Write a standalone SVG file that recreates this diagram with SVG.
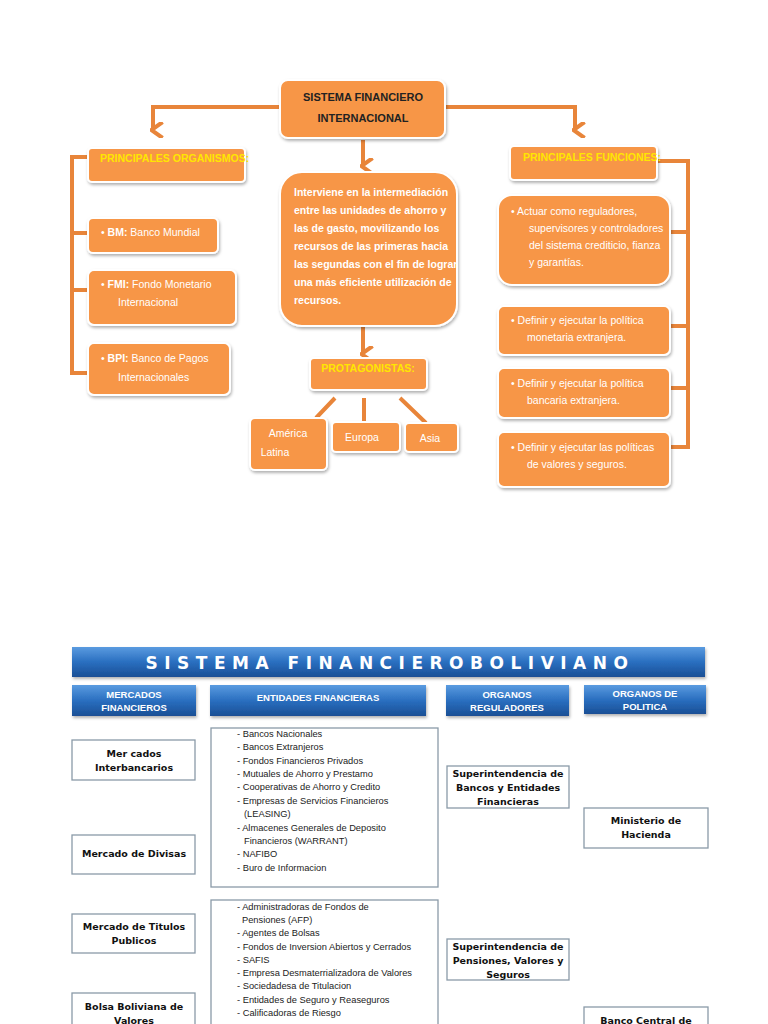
<svg xmlns="http://www.w3.org/2000/svg" width="768" height="1024" viewBox="0 0 768 1024">
<defs>
<style>
.ob{fill:#F79646;stroke:#fff;stroke-width:2;filter:url(#sh)}
.ln{stroke:#E8853A;stroke-width:4;fill:none}
.tw{font-family:"Liberation Sans",Arial,sans-serif;font-size:10.5px;fill:#fff}
.ty{font-family:"Liberation Sans",Arial,sans-serif;font-size:10.5px;fill:#FFE600;font-weight:bold}
.tb{font-family:"Liberation Sans",Arial,sans-serif;font-size:10.5px;fill:#fff;font-weight:bold}
.wb{fill:#fff;stroke:#8a9aa8;stroke-width:1.3}
.bk{font-family:"DejaVu Sans",sans-serif;font-size:9.5px;fill:#111;font-weight:bold}
.ls{font-family:"Liberation Sans",Arial,sans-serif;font-size:9.3px;fill:#222}
.hd{font-family:"Liberation Sans",Arial,sans-serif;font-size:9.5px;fill:#fff;font-weight:bold}
.bl{fill:url(#bg);filter:url(#sh)}
</style>
<filter id="sh" x="-10%" y="-10%" width="125%" height="130%"><feDropShadow dx="1" dy="2" stdDeviation="1.5" flood-color="#000" flood-opacity="0.3"/></filter>
<linearGradient id="bg" x1="0" y1="0" x2="0" y2="1"><stop offset="0" stop-color="#5A9BE0"/><stop offset="0.5" stop-color="#2A6FC0"/><stop offset="1" stop-color="#1A4F95"/></linearGradient>
<marker id="ar" viewBox="0 0 10 10" refX="5" refY="8" markerWidth="4" markerHeight="4" orient="auto-start-reverse"><path d="M0,2 L5,9 L10,2" fill="none" stroke="#E8853A" stroke-width="2.5"/></marker>
</defs>
<rect width="768" height="1024" fill="#fff"/>
<g id="connectors">
<path class="ln" d="M280,107 H153 V130" marker-end="url(#ar)"/>
<path class="ln" d="M445,107 H575 V130" marker-end="url(#ar)"/>
<path class="ln" d="M363,140 V166" marker-end="url(#ar)"/>
<path class="ln" d="M363,326 V354" marker-end="url(#ar)"/>
<path class="ln" d="M88,157 H72 V373 H88 M72,233 H88 M72,290 H88"/>
<path class="ln" d="M657,161 H688 V447 H670 M688,232 H670 M688,326 H670 M688,388 H670"/>
<path class="ln" d="M335,398 L316,418 M364,398 V422 M400,398 L426,423"/>
</g>
<g id="title"><rect class="ob" x="280" y="80" width="165" height="58" rx="8"/><text x="363" y="101" text-anchor="middle" font-family="Liberation Sans,Arial,sans-serif" font-size="11" font-weight="bold" fill="#222">SISTEMA FINANCIERO</text><text x="363" y="122" text-anchor="middle" font-family="Liberation Sans,Arial,sans-serif" font-size="11" font-weight="bold" fill="#222">INTERNACIONAL</text></g>
<g id="organismos"><rect class="ob" x="88" y="148" width="157" height="34" rx="4"/><text class="ty" x="100" y="162">PRINCIPALES ORGANISMOS:</text></g>
<g id="bm"><rect class="ob" x="88" y="218" width="130" height="35" rx="5"/><text class="tw" x="101" y="236">•   <tspan font-weight="bold">BM:</tspan> Banco Mundial</text></g>
<g id="fmi"><rect class="ob" x="88" y="270" width="148" height="55" rx="6"/><text class="tw" x="101" y="288">•   <tspan font-weight="bold">FMI:</tspan> Fondo Monetario</text><text class="tw" x="118" y="306">Internacional</text></g>
<g id="bpi"><rect class="ob" x="88" y="343" width="142" height="52" rx="6"/><text class="tw" x="101" y="362">•   <tspan font-weight="bold">BPI:</tspan> Banco de Pagos</text><text class="tw" x="118" y="381">Internacionales</text></g>
<g id="centro"><rect class="ob" x="280" y="172" width="177" height="154" rx="22"/>
<text class="tb" x="294" y="196">Interviene en la intermediación</text>
<text class="tb" x="294" y="214">entre las unidades de ahorro y</text>
<text class="tb" x="294" y="232">las de gasto, movilizando los</text>
<text class="tb" x="294" y="250">recursos de las primeras hacia</text>
<text class="tb" x="294" y="268">las segundas con el fin de lograr</text>
<text class="tb" x="294" y="286">una más eficiente utilización de</text>
<text class="tb" x="294" y="304">recursos.</text></g>
<g id="protagonistas"><rect class="ob" x="310" y="358" width="117" height="32" rx="4"/><text class="ty" x="368" y="372" text-anchor="middle">PROTAGONISTAS:</text></g>
<g id="america"><rect class="ob" x="250" y="418" width="77" height="52" rx="5"/><text class="tw" x="288" y="437" text-anchor="middle" font-size="11.5">América</text><text class="tw" x="275" y="456" text-anchor="middle" font-size="11.5">Latina</text></g>
<g id="europa"><rect class="ob" x="332" y="422" width="68" height="30" rx="4"/><text class="tw" x="362" y="441" text-anchor="middle" font-size="11.5">Europa</text></g>
<g id="asia"><rect class="ob" x="405" y="423" width="53" height="29" rx="4"/><text class="tw" x="430" y="442" text-anchor="middle" font-size="11.5">Asia</text></g>
<g id="funciones"><rect class="ob" x="510" y="146" width="147" height="34" rx="4"/><text class="ty" x="523" y="161">PRINCIPALES FUNCIONES:</text></g>
<g id="f1"><rect class="ob" x="498" y="195" width="172" height="90" rx="14"/><text class="tw" x="511" y="215">•   Actuar como reguladores,</text><text class="tw" x="529" y="232">supervisores y controladores</text><text class="tw" x="529" y="249">del sistema crediticio, fianza</text><text class="tw" x="529" y="266">y garantías.</text></g>
<g id="f2"><rect class="ob" x="498" y="306" width="172" height="49" rx="6"/><text class="tw" x="511" y="324">•   Definir y ejecutar la política</text><text class="tw" x="527" y="341">monetaria extranjera.</text></g>
<g id="f3"><rect class="ob" x="498" y="368" width="172" height="50" rx="6"/><text class="tw" x="511" y="387">•   Definir y ejecutar la política</text><text class="tw" x="527" y="404">bancaria extranjera.</text></g>
<g id="f4"><rect class="ob" x="498" y="432" width="172" height="55" rx="6"/><text class="tw" x="511" y="451">•   Definir y ejecutar las políticas</text><text class="tw" x="527" y="468">de valores y seguros.</text></g>

<g id="banner"><rect class="bl" x="72" y="647" width="633" height="30"/><text x="390" y="669" text-anchor="middle" font-family="DejaVu Sans,sans-serif" font-size="17" font-weight="bold" fill="#fff" letter-spacing="6.5">SISTEMA  FINANCIEROBOLIVIANO</text></g>
<g id="h1"><rect class="bl" x="72" y="685" width="124" height="31"/><text class="hd" x="134" y="698" text-anchor="middle">MERCADOS</text><text class="hd" x="134" y="711" text-anchor="middle">FINANCIEROS</text></g>
<g id="h2"><rect class="bl" x="210" y="685" width="216" height="31"/><text class="hd" x="318" y="701" text-anchor="middle" font-size="11">ENTIDADES FINANCIERAS</text></g>
<g id="h3"><rect class="bl" x="446" y="685" width="123" height="31"/><text class="hd" x="507" y="698" text-anchor="middle">ORGANOS</text><text class="hd" x="507" y="711" text-anchor="middle">REGULADORES</text></g>
<g id="h4"><rect class="bl" x="584" y="685" width="122" height="29"/><text class="hd" x="645" y="697" text-anchor="middle">ORGANOS DE</text><text class="hd" x="645" y="710" text-anchor="middle">POLITICA</text></g>
<g id="m1"><rect class="wb" x="72" y="740" width="123" height="40"/><text class="bk" x="134" y="757" text-anchor="middle">Mer cados</text><text class="bk" x="134" y="771" text-anchor="middle">Interbancarios</text></g>
<g id="m2"><rect class="wb" x="72" y="835" width="123" height="39"/><text class="bk" x="134" y="857" text-anchor="middle">Mercado de Divisas</text></g>
<g id="m3"><rect class="wb" x="72" y="914" width="123" height="39"/><text class="bk" x="134" y="930" text-anchor="middle">Mercado de Titulos</text><text class="bk" x="134" y="944" text-anchor="middle">Publicos</text></g>
<g id="m4"><rect class="wb" x="72" y="993" width="123" height="40"/><text class="bk" x="134" y="1010" text-anchor="middle">Bolsa Boliviana de</text><text class="bk" x="134" y="1024" text-anchor="middle">Valores</text></g>
<g id="e1"><rect class="wb" x="211" y="728" width="227" height="159"/>
<text class="ls" x="237" y="737">- Bancos Nacionales</text>
<text class="ls" x="237" y="750">- Bancos Extranjeros</text>
<text class="ls" x="237" y="764">- Fondos Financieros Privados</text>
<text class="ls" x="237" y="777">- Mutuales de Ahorro y Prestamo</text>
<text class="ls" x="237" y="790">- Cooperativas de Ahorro y Credito</text>
<text class="ls" x="237" y="804">- Empresas de Servicios Financieros</text>
<text class="ls" x="244" y="817">(LEASING)</text>
<text class="ls" x="237" y="831">- Almacenes Generales de Deposito</text>
<text class="ls" x="244" y="844">Financieros (WARRANT)</text>
<text class="ls" x="237" y="857">- NAFIBO</text>
<text class="ls" x="237" y="871">- Buro de Informacion</text></g>
<g id="e2"><rect class="wb" x="211" y="900" width="227" height="140"/>
<text class="ls" x="237" y="910">- Administradoras de Fondos de</text>
<text class="ls" x="242" y="923">Pensiones (AFP)</text>
<text class="ls" x="237" y="936">- Agentes de Bolsas</text>
<text class="ls" x="237" y="950">- Fondos de Inversion Abiertos y Cerrados</text>
<text class="ls" x="237" y="963">- SAFIS</text>
<text class="ls" x="237" y="976">- Empresa Desmaterrializadora de Valores</text>
<text class="ls" x="237" y="989">- Sociedadesa de Titulacion</text>
<text class="ls" x="237" y="1003">- Entidades de Seguro y Reaseguros</text>
<text class="ls" x="237" y="1016">- Calificadoras de Riesgo</text></g>
<g id="r1"><rect class="wb" x="447" y="766" width="122" height="42"/><text class="bk" x="508" y="777" text-anchor="middle">Superintendencia de</text><text class="bk" x="508" y="791" text-anchor="middle">Bancos y Entidades</text><text class="bk" x="508" y="805" text-anchor="middle">Financieras</text></g>
<g id="r2"><rect class="wb" x="447" y="939" width="122" height="41"/><text class="bk" x="508" y="950" text-anchor="middle">Superintendencia de</text><text class="bk" x="508" y="964" text-anchor="middle">Pensiones, Valores y</text><text class="bk" x="508" y="978" text-anchor="middle">Seguros</text></g>
<g id="p1"><rect class="wb" x="584" y="808" width="124" height="40"/><text class="bk" x="646" y="824" text-anchor="middle">Ministerio de</text><text class="bk" x="646" y="838" text-anchor="middle">Hacienda</text></g>
<g id="p2"><rect class="wb" x="584" y="1007" width="124" height="30"/><text class="bk" x="646" y="1024" text-anchor="middle">Banco Central de</text></g>
</svg>
